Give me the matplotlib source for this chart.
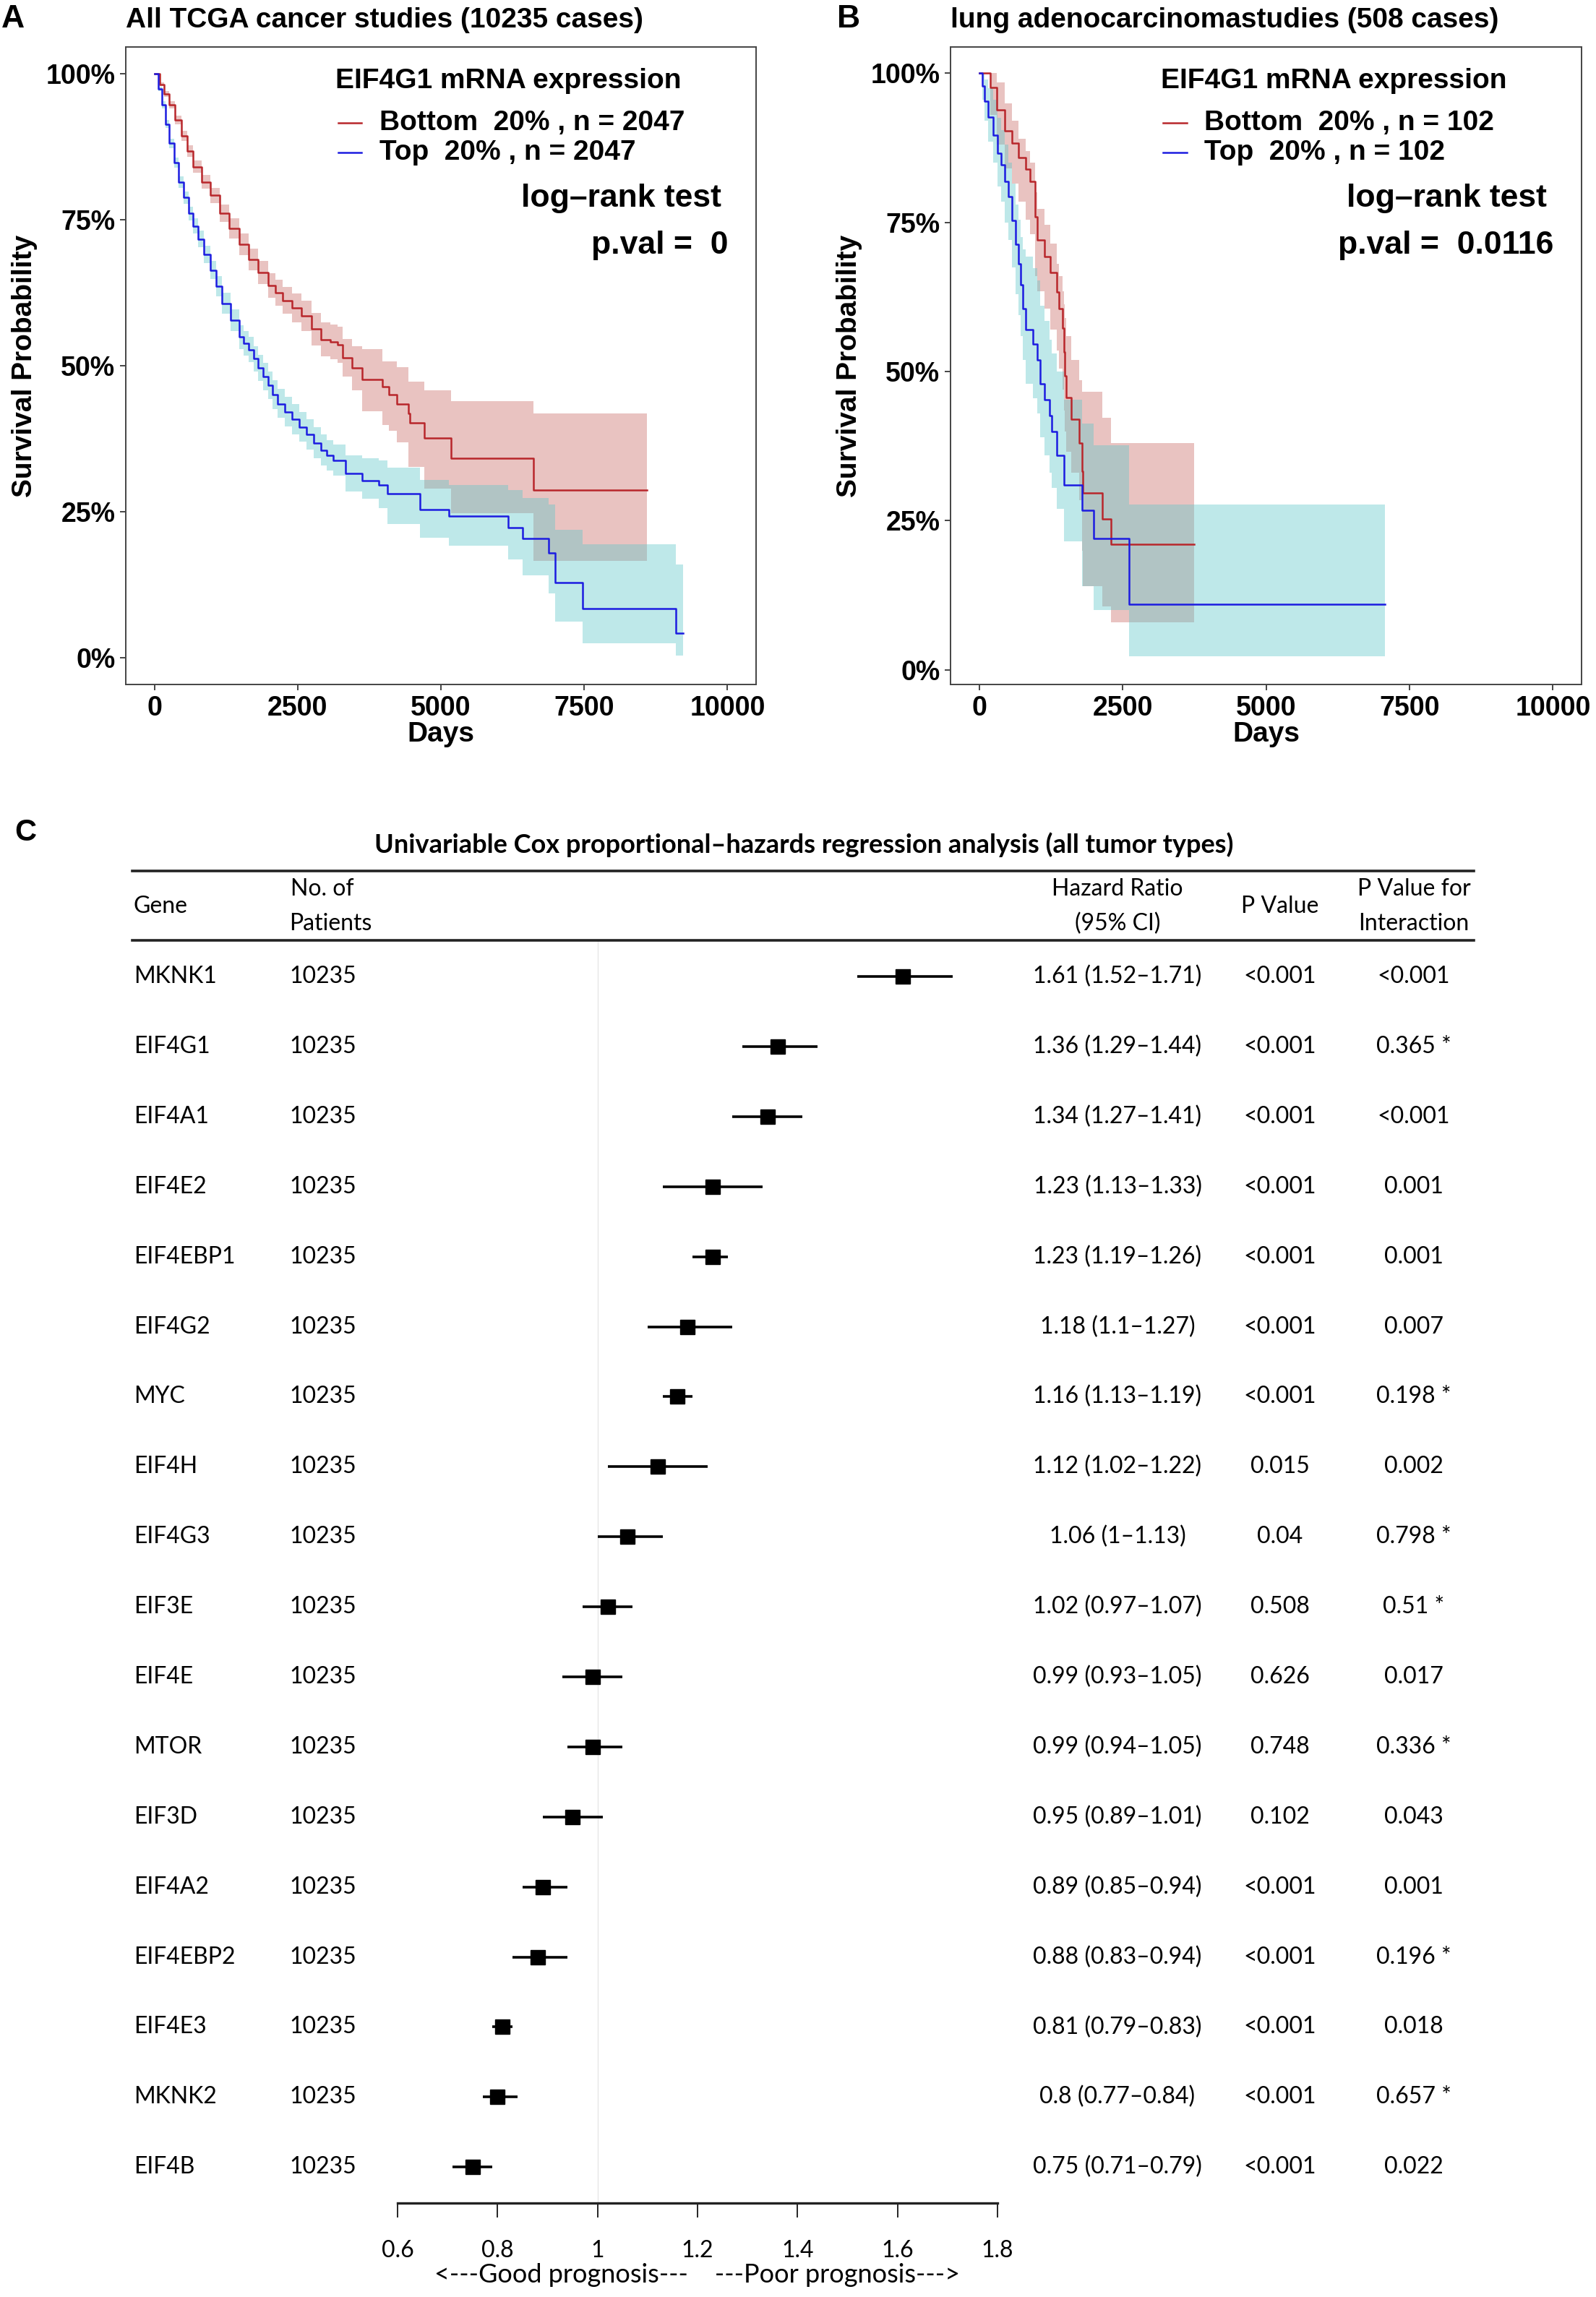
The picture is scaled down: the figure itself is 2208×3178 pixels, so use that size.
import matplotlib
matplotlib.use("Agg")
import matplotlib.pyplot as plt

# =========================
# DATA
# =========================
# panel A : all TCGA, EIF4G1 bottom / top 20%
a_bot_t = [0, 88, 172, 256, 361, 467, 572, 677, 824, 971, 1139, 1307, 1475, 1643, 1812, 1980,
           2106, 2232, 2400, 2568, 2736, 2904, 3073, 3199, 3283, 3451, 3619, 3981, 4095, 4231,
           4434, 4456, 4705, 5180, 6615, 8589]
a_bot_s = [100, 98.2, 96.5, 94.7, 92.1, 89.4, 86.8, 84.1, 81.5, 79.2, 76.1, 73.5, 70.8, 68.2,
           66.0, 63.8, 62.5, 61.2, 59.9, 58.5, 56.3, 54.5, 54.1, 53.6, 51.4, 49.6, 47.7, 46.4,
           45.1, 43.5, 41.8, 40.2, 37.6, 34.2, 28.7, 28.7]
a_bot_lo = [100, 97.9, 96.0, 94.1, 91.3, 88.5, 85.8, 83.0, 80.3, 77.9, 74.6, 71.8, 69.0, 66.3,
            64.0, 61.7, 60.3, 58.9, 57.4, 55.9, 53.5, 51.6, 51.1, 50.5, 48.2, 45.8, 42.2, 39.8,
            38.9, 36.9, 32.7, 32.7, 28.9, 24.7, 16.6, 16.6]
a_bot_hi = [100, 98.5, 97.0, 95.3, 92.9, 90.3, 87.8, 85.2, 82.7, 80.5, 77.6, 75.2, 72.6, 70.1,
            68.0, 65.9, 64.7, 63.5, 62.4, 61.1, 59.1, 57.4, 57.1, 56.7, 54.6, 53.4, 52.8, 50.8,
            50.8, 49.7, 47.3, 47.3, 45.8, 43.9, 41.8, 41.8]

a_top_t = [0, 67, 130, 193, 256, 340, 425, 509, 593, 677, 761, 866, 971, 1076, 1182, 1328, 1475,
           1559, 1643, 1728, 1812, 1896, 1980, 2064, 2148, 2274, 2400, 2526, 2652, 2778, 2904,
           3010, 3115, 3330, 3619, 3913, 4072, 4638, 5135, 6177, 6425, 6878, 6991, 7475, 9096,
           9223]
a_top_s = [100, 97.4, 94.7, 91.4, 88.1, 84.8, 81.5, 78.8, 76.1, 73.9, 71.7, 69.1, 66.4, 63.6,
           60.7, 57.8, 54.9, 53.8, 52.7, 51.2, 49.6, 48.1, 46.6, 45.0, 43.5, 42.1, 40.8, 39.5,
           38.2, 36.8, 35.5, 34.6, 33.8, 31.5, 30.3, 29.6, 28.1, 25.4, 24.3, 22.3, 20.4, 17.9,
           12.8, 8.4, 4.2, 4.2]
a_top_lo = [100, 97.0, 94.1, 90.7, 87.3, 83.9, 80.5, 77.7, 74.9, 72.6, 70.3, 67.6, 64.8, 61.9,
            58.9, 55.9, 52.9, 51.7, 50.6, 49.0, 47.4, 45.8, 44.3, 42.6, 41.1, 39.6, 38.3, 37.0,
            35.6, 34.2, 32.9, 32.0, 31.2, 28.4, 27.2, 25.6, 22.9, 20.5, 19.2, 16.8, 14.1, 11.0,
            6.2, 2.4, 0.4, 0.4]
a_top_hi = [100, 97.8, 95.3, 92.1, 88.9, 85.7, 82.5, 79.9, 77.3, 75.2, 73.1, 70.6, 68.0, 65.3,
            62.5, 59.7, 56.9, 55.9, 54.9, 53.4, 51.9, 50.5, 49.0, 47.5, 46.1, 44.7, 43.4, 42.1,
            40.9, 39.5, 38.2, 37.3, 36.5, 34.6, 34.2, 33.8, 32.6, 30.5, 29.6, 28.7, 27.3, 26.2,
            21.9, 19.4, 15.9, 15.9]

# panel B : lung adenocarcinoma
b_bot_t = [0, 197, 302, 449, 575, 680, 805, 889, 973, 1015, 1141, 1245, 1350, 1392, 1455, 1476,
           1497, 1518, 1610, 1749, 1790, 1811, 2147, 2294, 3740]
b_bot_s = [100, 97.6, 93.9, 90.3, 88.3, 85.9, 83.9, 81.9, 75.9, 72.0, 69.3, 66.6, 63.3, 60.6, 57.3,
           53.3, 49.3, 45.6, 42.0, 38.0, 33.3, 29.6, 25.3, 21.0, 21.0]
b_bot_lo = [100, 93.0, 88.0, 84.0, 81.5, 78.5, 75.5, 73.0, 66.0, 63.5, 60.5, 57.0, 53.5, 50.5, 47.0,
            43.5, 40.0, 36.5, 33.0, 28.5, 20.0, 14.0, 10.6, 8.0, 8.0]
b_bot_hi = [100, 100, 98.5, 95.0, 92.0, 89.0, 87.0, 85.0, 80.0, 77.3, 74.6, 71.5, 68.0, 66.0, 63.5,
            61.3, 59.0, 56.0, 52.0, 48.5, 46.6, 46.6, 42.3, 38.0, 38.0]

b_top_t = [0, 50, 92, 155, 239, 323, 386, 449, 512, 575, 638, 680, 722, 764, 805, 931, 1015, 1057,
           1141, 1224, 1266, 1350, 1476, 1790, 2000, 2608, 7068]
b_top_s = [100, 97.9, 95.3, 92.6, 89.6, 86.6, 84.6, 81.9, 79.3, 75.3, 71.3, 68.0, 64.6, 60.6, 57.0,
           54.6, 52.0, 48.0, 45.3, 42.6, 40.0, 36.0, 31.0, 26.7, 22.0, 11.0, 11.0]
b_top_lo = [100, 95.5, 92.0, 88.5, 85.0, 81.0, 78.5, 75.0, 72.0, 67.5, 63.0, 59.5, 56.0, 52.0, 48.0,
            45.5, 43.0, 39.0, 36.0, 33.0, 30.5, 27.0, 21.5, 14.0, 10.0, 2.3, 2.3]
b_top_hi = [100, 100, 99.0, 97.5, 95.5, 92.5, 90.5, 88.0, 85.0, 81.5, 78.0, 75.5, 72.5, 70.5, 69.3,
            67.3, 65.3, 61.0, 58.5, 55.3, 53.0, 50.0, 45.3, 41.3, 37.6, 27.7, 27.7]

# panel C : univariable Cox regression
genes = ["MKNK1", "EIF4G1", "EIF4A1", "EIF4E2", "EIF4EBP1", "EIF4G2", "MYC", "EIF4H", "EIF4G3",
         "EIF3E", "EIF4E", "MTOR", "EIF3D", "EIF4A2", "EIF4EBP2", "EIF4E3", "MKNK2", "EIF4B"]
n_patients = [10235] * 18
hr = [1.61, 1.36, 1.34, 1.23, 1.23, 1.18, 1.16, 1.12, 1.06, 1.02, 0.99, 0.99, 0.95, 0.89, 0.88,
      0.81, 0.8, 0.75]
hr_lo = [1.52, 1.29, 1.27, 1.13, 1.19, 1.1, 1.13, 1.02, 1, 0.97, 0.93, 0.94, 0.89, 0.85, 0.83,
         0.79, 0.77, 0.71]
hr_hi = [1.71, 1.44, 1.41, 1.33, 1.26, 1.27, 1.19, 1.22, 1.13, 1.07, 1.05, 1.05, 1.01, 0.94, 0.94,
         0.83, 0.84, 0.79]
p_val = ["<0.001", "<0.001", "<0.001", "<0.001", "<0.001", "<0.001", "<0.001", "0.015", "0.04",
         "0.508", "0.626", "0.748", "0.102", "<0.001", "<0.001", "<0.001", "<0.001", "<0.001"]
p_inter = ["<0.001", "0.365 *", "<0.001", "0.001", "0.001", "0.007", "0.198 *", "0.002", "0.798 *",
           "0.51 *", "0.017", "0.336 *", "0.043", "0.001", "0.196 *", "0.018", "0.657 *", "0.022"]
hr_ticks = [0.6, 0.8, 1, 1.2, 1.4, 1.6, 1.8]

# =========================
# STYLE
# =========================
W, H = 2208, 3178
RED = "#b8262b"
BLUE = "#1c1ce0"
RED_FILL = "#c96a66"
CYAN_FILL = "#5ec6c9"
FONT = "Liberation Sans"
TBL_FONT = "Lato"

plt.rcParams["font.family"] = [FONT, "DejaVu Sans"]

fig = plt.figure(figsize=(W / 100, H / 100), dpi=100)


def px_axes(x0, y0, x1, y1):
    return fig.add_axes([x0 / W, 1 - y1 / H, (x1 - x0) / W, (y1 - y0) / H])


def km_panel(ax, bot, top, ylim, n_txt, pval, title, letter, letter_x):
    bt, bs, blo, bhi = bot
    tt, ts, tlo, thi = top
    ax.fill_between(bt, blo, bhi, step="post", color=RED_FILL, alpha=0.4, lw=0)
    ax.fill_between(tt, tlo, thi, step="post", color=CYAN_FILL, alpha=0.4, lw=0)
    ax.step(bt, bs, where="post", color=RED, lw=1.8)
    ax.step(tt, ts, where="post", color=BLUE, lw=1.8)

    ax.set_xlim(-500, 10500)
    ax.set_ylim(*ylim)
    ax.set_xticks([0, 2500, 5000, 7500, 10000])
    ax.set_yticks([0, 25, 50, 75, 100])
    ax.set_yticklabels([f"{v}%" for v in [0, 25, 50, 75, 100]])
    for sp in ax.spines.values():
        sp.set_color("#444444")
        sp.set_linewidth(1.4)
    ax.tick_params(length=5.5, width=1.4, color="#444444", labelsize=27, pad=5)
    for lab in ax.get_xticklabels() + ax.get_yticklabels():
        lab.set_fontweight("bold")
    ax.set_xlabel("Days", fontsize=28, fontweight="bold", labelpad=0)
    ax.set_ylabel("Survival Probability", fontsize=28, fontweight="bold", labelpad=8)

    # legend
    ax.text(0.333, 0.947, "EIF4G1 mRNA expression", transform=ax.transAxes, fontsize=28,
            fontweight="bold", va="center", ha="left")
    ax.plot([0.337, 0.374], [0.881, 0.881], color=RED, lw=1.8, transform=ax.transAxes)
    ax.plot([0.337, 0.374], [0.834, 0.834], color=BLUE, lw=1.8, transform=ax.transAxes)
    ax.text(0.402, 0.881, f"Bottom  20% , n = {n_txt}", transform=ax.transAxes, fontsize=28,
            fontweight="bold", va="center", ha="left")
    ax.text(0.402, 0.834, f"Top  20% , n = {n_txt}", transform=ax.transAxes, fontsize=28,
            fontweight="bold", va="center", ha="left")
    ax.text(0.945, 0.763, "log\u2013rank test", transform=ax.transAxes, fontsize=32,
            fontweight="bold", va="center", ha="right")
    ax.text(0.956, 0.689, f"p.val =  {pval}", transform=ax.transAxes, fontsize=32,
            fontweight="bold", va="center", ha="right")

    ax.text(0.0, 1 + 37 / 882, title, transform=ax.transAxes, fontsize=28, fontweight="bold",
            va="center", ha="left")
    fig.text(letter_x / W, 1 - 27 / H, letter, fontsize=32, fontweight="bold", va="center",
             ha="left")


axA = px_axes(174, 65, 1046, 947)
km_panel(axA, (a_bot_t, a_bot_s, a_bot_lo, a_bot_hi), (a_top_t, a_top_s, a_top_lo, a_top_hi),
         (-4.6, 104.6), 2047, "0", "All TCGA cancer studies (10235 cases)", "A", 2)

axB = px_axes(1315, 65, 2188, 947)
km_panel(axB, (b_bot_t, b_bot_s, b_bot_lo, b_bot_hi), (b_top_t, b_top_s, b_top_lo, b_top_hi),
         (-2.45, 104.4), 102, "0.0116", "lung adenocarcinomastudies (508 cases)", "B", 1158)

# =========================
# PANEL C : forest plot
# =========================
X0, X1 = 550, 1380          # pixel span of the HR axis (0.6 .. 1.8)
axC = px_axes(X0, 1205, X1, 3048)
rows = list(range(len(genes)))
axC.set_xlim(0.6, 1.8)
axC.set_ylim(17.513, -1.507)


def fx(px):
    return (px - X0) / (X1 - X0)


tr = axC.get_yaxis_transform()   # x in axes fraction, y in data
tfs = 23

axC.plot([1, 1], [-0.516, 17.513], color="#e6e6e6", lw=1, zorder=0, clip_on=False)
axC.hlines(rows, hr_lo, hr_hi, color="black", lw=2.6)
axC.plot(hr, rows, "s", color="black", ms=15)

for r in rows:
    axC.text(fx(185), r, genes[r], transform=tr, fontsize=tfs, family=TBL_FONT, va="center",
             ha="left", clip_on=False)
    axC.text(fx(400), r, str(n_patients[r]), transform=tr, fontsize=tfs, family=TBL_FONT,
             va="center", ha="left", clip_on=False)
    axC.text(fx(1546), r, f"{hr[r]:g} ({hr_lo[r]:g}\u2013{hr_hi[r]:g})", transform=tr,
             fontsize=tfs, family=TBL_FONT, va="center", ha="center", clip_on=False)
    axC.text(fx(1771), r, p_val[r], transform=tr, fontsize=tfs, family=TBL_FONT, va="center",
             ha="center", clip_on=False)
    axC.text(fx(1956), r, p_inter[r], transform=tr, fontsize=tfs, family=TBL_FONT,
             va="center", ha="center", clip_on=False)

# header
y_h1, y_hm, y_h2 = -1.249, -1.001, -0.753
axC.text(fx(185), y_hm, "Gene", transform=tr, fontsize=tfs, family=TBL_FONT, va="center",
         ha="left", clip_on=False)
axC.text(fx(402), y_h1, "No. of", transform=tr, fontsize=tfs, family=TBL_FONT, va="center",
         ha="left", clip_on=False)
axC.text(fx(400), y_h2, "Patients", transform=tr, fontsize=tfs, family=TBL_FONT, va="center",
         ha="left", clip_on=False)
axC.text(fx(1546), y_h1, "Hazard Ratio", transform=tr, fontsize=tfs, family=TBL_FONT,
         va="center", ha="center", clip_on=False)
axC.text(fx(1546), y_h2, "(95% CI)", transform=tr, fontsize=tfs, family=TBL_FONT, va="center",
         ha="center", clip_on=False)
axC.text(fx(1771), y_hm, "P Value", transform=tr, fontsize=tfs, family=TBL_FONT, va="center",
         ha="center", clip_on=False)
axC.text(fx(1956), y_h1, "P Value for", transform=tr, fontsize=tfs, family=TBL_FONT,
         va="center", ha="center", clip_on=False)
axC.text(fx(1956), y_h2, "Interaction", transform=tr, fontsize=tfs, family=TBL_FONT,
         va="center", ha="center", clip_on=False)

# rules
for yr in [-1.507, -0.516]:
    axC.plot([fx(183), fx(2039)], [yr, yr], color="#222222", lw=2.6, transform=tr,
             clip_on=False)

axC.text(fx(1112), -1.507 - 0.37, "Univariable Cox proportional\u2013hazards regression analysis "
         "(all tumor types)", transform=tr, fontsize=26, fontweight="bold", family=TBL_FONT,
         va="center", ha="center", clip_on=False)
fig.text(20 / W, 1 - 1152 / H, "C", fontsize=30, fontweight="bold", va="center", ha="left")

for sp in ["top", "left", "right"]:
    axC.spines[sp].set_visible(False)
axC.spines["bottom"].set_linewidth(2.4)
axC.spines["bottom"].set_color("#222222")
axC.set_yticks([])
axC.set_xticks(hr_ticks)
axC.set_xticklabels([f"{v:g}" for v in hr_ticks], family=TBL_FONT, fontsize=tfs)
axC.tick_params(axis="x", length=14.4, width=1.2, pad=22)
axC.set_xlabel("<---Good prognosis---    ---Poor prognosis--->", family=TBL_FONT, fontsize=26,
               labelpad=2)

fig.savefig("out.png", dpi=100)
